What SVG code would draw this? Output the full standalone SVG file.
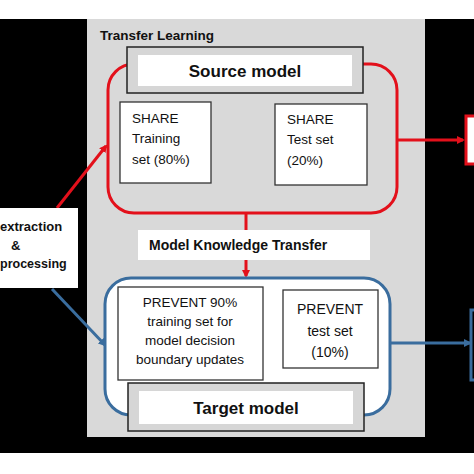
<svg xmlns="http://www.w3.org/2000/svg" width="474" height="474" viewBox="0 0 474 474">
<defs>
<style>
.t{font-family:"Liberation Sans","DejaVu Sans",sans-serif;fill:#111}
.b{font-weight:bold}
.box{fill:#fff;stroke:#333;stroke-width:1.3}
.gbox{fill:#d6d6d6;stroke:#222;stroke-width:1.5}
.red{stroke:#e3101b;stroke-width:3;fill:none}
.blue{stroke:#3a6d9e;stroke-width:3;fill:none}
</style>
<marker id="ar" markerWidth="8" markerHeight="8" refX="6" refY="4" orient="auto" markerUnits="userSpaceOnUse"><path d="M0,0 L8,4 L0,8 z" fill="#e3101b"/></marker>
<marker id="ab" markerWidth="8" markerHeight="8" refX="6" refY="4" orient="auto" markerUnits="userSpaceOnUse"><path d="M0,0 L8,4 L0,8 z" fill="#3a6d9e"/></marker>
</defs>
<rect x="0" y="0" width="474" height="474" fill="#fff"/>
<rect x="0" y="19" width="474" height="434" fill="#000"/>
<rect x="87" y="19" width="338" height="418" fill="#d9d9d9"/>
<text class="t b" x="100" y="40" font-size="13.5">Transfer Learning</text>

<g id="connectors">
<line class="red" x1="397" y1="140" x2="463" y2="140" marker-end="url(#ar)"/>
<line class="blue" x1="390" y1="343" x2="470" y2="343" marker-end="url(#ab)"/>
<line class="red" x1="246" y1="213" x2="246" y2="230"/>
<line class="red" x1="246" y1="260" x2="246" y2="276" marker-end="url(#ar)"/>
<line class="red" x1="57" y1="208" x2="106" y2="146" marker-end="url(#ar)"/>
<line class="blue" x1="52" y1="289" x2="105" y2="345" marker-end="url(#ab)"/>
</g>

<g id="source-group">
<rect class="red" x="108" y="64" width="289" height="149" rx="26"/>
</g>
<g id="target-group">
<rect x="105" y="278" width="285" height="137" rx="26" fill="#fff" stroke="#3a6d9e" stroke-width="3"/>
</g>

<g id="source-model">
<rect class="gbox" x="127" y="47" width="236" height="46"/>
<rect x="138" y="55" width="214" height="31" fill="#fff"/>
<text class="t b" x="245" y="77" font-size="17" text-anchor="middle">Source model</text>
</g>

<g id="share-training">
<rect class="box" x="120" y="102" width="91" height="81"/>
<text class="t" font-size="13.5"><tspan x="132" y="123">SHARE</tspan><tspan x="132" y="143">Training</tspan><tspan x="132" y="164">set (80%)</tspan></text>
</g>

<g id="share-test">
<rect class="box" x="275" y="104" width="92" height="81"/>
<text class="t" font-size="13.5"><tspan x="287" y="124">SHARE</tspan><tspan x="287" y="144">Test set</tspan><tspan x="287" y="165">(20%)</tspan></text>
</g>

<g id="transfer">
<rect x="138" y="230" width="232" height="30" fill="#fff"/>
<text class="t b" x="149" y="250" font-size="14">Model Knowledge Transfer</text>
</g>

<g id="prevent-train">
<rect class="box" x="118" y="287" width="145" height="93"/>
<text class="t" font-size="13.5" text-anchor="middle"><tspan x="190" y="307">PREVENT 90%</tspan><tspan x="190" y="326">training set for</tspan><tspan x="190" y="345">model decision</tspan><tspan x="190" y="364">boundary updates</tspan></text>
</g>

<g id="prevent-test">
<rect class="box" x="283" y="290" width="95" height="78"/>
<text class="t" font-size="14" text-anchor="middle"><tspan x="330" y="314">PREVENT</tspan><tspan x="330" y="336">test set</tspan><tspan x="330" y="357">(10%)</tspan></text>
</g>

<g id="target-model">
<rect class="gbox" x="128" y="383" width="236" height="48"/>
<rect x="139" y="391" width="214" height="33" fill="#fff"/>
<text class="t b" x="246" y="414" font-size="17" text-anchor="middle">Target model</text>
</g>

<g id="extraction">
<rect x="-10" y="208" width="88" height="80" fill="#fff"/>
<text class="t b" font-size="13"><tspan x="0" y="231">extraction</tspan><tspan x="11" y="250">&amp;</tspan><tspan x="0" y="268" font-size="12.5">processing</tspan></text>
</g>

<g id="right-red">
<rect x="466" y="116" width="12" height="48" fill="#fff" stroke="#e3101b" stroke-width="3"/>
</g>
<g id="right-blue">
<rect x="471" y="310" width="10" height="70" fill="#000" stroke="#3a6d9e" stroke-width="3"/>
</g>
</svg>
